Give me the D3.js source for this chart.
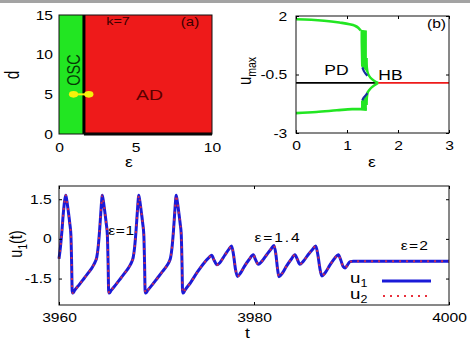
<!DOCTYPE html>
<html><head><meta charset="utf-8">
<script src="https://cdn.jsdelivr.net/npm/d3@7"></script>
<style>body{margin:0;background:#fff}svg{display:block;font-family:"Liberation Sans",Arial,sans-serif}</style>
</head><body><svg id="c" width="474" height="355"></svg>
<script>
// ---------------- DATA ----------------
// panel (a): parameter plane (eps, d)
const aXTicks = [0, 5, 10];
const aYTicks = [0, 5, 10, 15];
const oscRegion = [0, 1.63];          // eps range of OSC region (d from 0 to 15)
const adRegion = [1.63, 10];          // eps range of AD region
const aBoundaryLine = [[1.63, 0], [1.63, 15]];
const aBottomLine = [[1.63, 0], [10, 0]];
const yellowPoints = [[0.95, 5], [1.95, 5]];

// panel (b): bifurcation diagram u_max vs eps
const bXTicks = [0, 1, 2, 3];
const bYTicks = [2, -0.5, -3];
const upperBranch = [[0, 1.86], [0.3, 1.84], [0.55, 1.8], [0.85, 1.72], [1.05, 1.65], [1.15, 1.59], [1.22, 1.5], [1.27, 1.38]];
const lowerBranch = [[0, -2.15], [0.4, -2.1], [0.8, -2.03], [1.1, -1.98], [1.27, -1.98], [1.39, -2.0]];
// band rows: [eps, lower, upper]
const upperBand = [[1.265, 0.9, 1.4], [1.275, -0.15, 1.4], [1.31, -0.22, 1.4], [1.35, -0.3, 1.39], [1.39, -0.4, 1.38]];
const lowerBand = [[1.275, -2.0, -1.62], [1.31, -2.0, -1.58], [1.35, -2.0, -1.45], [1.39, -2.0, -1.2]];
const upperConnect = [[1.385, 0.2], [1.39, -0.2], [1.41, -0.45], [1.46, -0.64], [1.53, -0.77], [1.61, -0.86]];
const lowerConnect = [[1.61, -0.86], [1.53, -0.97], [1.46, -1.1], [1.41, -1.25], [1.39, -1.5], [1.385, -1.8]];
const upperBlue = [[1.30, -0.2], [1.33, -0.35], [1.37, -0.48], [1.40, -0.55]];
const lowerBlue = [[1.30, -1.6], [1.33, -1.48], [1.37, -1.38], [1.40, -1.3]];
const fixedStable = [[0, -0.86], [1.61, -0.86]];     // black
const fixedAfterHB = [[1.61, -0.86], [3, -0.86]];    // red

// panel (c): time series
const cXTicks = [3960, 3980, 4000];
const cYTicks = [1.5, 0, -1.5];
const u1 = [
 [3960.0,-0.75],[3960.15,-0.3],[3960.3,0.3],[3960.45,1.0],[3960.6,1.5],[3960.7,1.65],[3960.8,1.45],[3960.95,1.05],[3961.1,0.6],[3961.22,0.15],[3961.3,-1.0],[3961.35,-1.95],[3961.42,-2.05],
 [3961.6,-1.95],[3962.1,-1.72],[3962.6,-1.48],[3963.1,-1.24],[3963.45,-1.05],[3963.7,-0.88],[3963.87,-0.7],[3964.02,-0.3],[3964.16,0.3],[3964.29,1.0],[3964.39,1.5],[3964.44,1.65],
 [3964.54,1.45],[3964.69,1.05],[3964.84,0.6],[3964.96,0.15],[3965.04,-1.0],[3965.09,-1.95],[3965.16,-2.05],
 [3965.35,-1.95],[3965.85,-1.72],[3966.35,-1.48],[3966.85,-1.24],[3967.2,-1.05],[3967.45,-0.88],[3967.61,-0.7],[3967.76,-0.3],[3967.9,0.3],[3968.03,1.0],[3968.13,1.5],[3968.18,1.65],
 [3968.28,1.45],[3968.43,1.05],[3968.58,0.6],[3968.7,0.15],[3968.78,-1.0],[3968.83,-1.95],[3968.9,-2.05],
 [3969.1,-1.95],[3969.6,-1.72],[3970.1,-1.48],[3970.6,-1.24],[3971.0,-1.05],[3971.28,-0.88],[3971.45,-0.7],[3971.6,-0.3],[3971.74,0.3],[3971.87,1.0],[3971.97,1.5],[3972.02,1.65],
 [3972.12,1.45],[3972.27,1.05],[3972.42,0.6],[3972.54,0.15],[3972.62,-1.0],[3972.67,-1.95],[3972.74,-2.05],
 [3972.9,-1.95],[3973.5,-1.65],[3974.2,-1.25],[3974.9,-0.9],[3975.4,-0.7],[3975.66,-0.62],[3975.9,-0.8],[3976.2,-0.98],[3976.5,-0.9],[3977.0,-0.62],[3977.45,-0.38],[3977.7,-0.27],
 [3977.9,-0.6],[3978.1,-1.15],[3978.3,-1.42],[3978.6,-1.3],[3979.0,-1.05],[3979.5,-0.78],[3979.93,-0.6],[3980.15,-0.78],[3980.44,-0.96],[3980.8,-0.85],[3981.3,-0.6],[3981.75,-0.38],[3982.05,-0.25],
 [3982.25,-0.6],[3982.42,-1.15],[3982.56,-1.43],[3982.9,-1.3],[3983.3,-1.05],[3983.8,-0.78],[3984.2,-0.6],[3984.45,-0.78],[3984.7,-0.96],[3985.05,-0.85],[3985.55,-0.6],[3986.0,-0.4],[3986.33,-0.27],
 [3986.55,-0.6],[3986.75,-1.1],[3986.94,-1.4],[3987.3,-1.28],[3987.8,-0.98],[3988.3,-0.72],[3988.65,-0.6],[3988.9,-0.8],[3989.15,-1.05],[3989.35,-1.1],[3989.6,-0.98],[3989.85,-0.86],
 [3990.2,-0.85],[4000,-0.85]
];
const u2 = u1; // completely synchronized: identical trace
const epsLabels = ["ε=1", "ε=1.4", "ε=2"];

// ---------------- DRAWING ----------------
const svg = d3.select("#c");
const SX = 1.25;
const GREEN = "#22e622", RED = "#ee1a1a", BLUE = "#1a1ad8", DOTRED = "#e8303c";

svg.append("rect").attr("x", 0).attr("y", 0).attr("width", 470).attr("height", 3).attr("fill", "#a3a3a3");

function label(g, x, y, s, o = {}) {
  const t = g.append("text")
    .attr("transform", `translate(${x},${y}) scale(${SX},1)` + (o.rot ? ` rotate(${o.rot})` : ""))
    .attr("text-anchor", o.anchor || "middle")
    .style("font-size", (o.size || 13) + "px")
    .attr("fill", o.fill || "#000");
  if (o.ls) t.attr("letter-spacing", o.ls);
  if (typeof s === "string") t.text(s); else s(t);
  return t;
}
function styleAxis(g, size) {
  g.attr("font-size", null).attr("font-family", null);
  g.select(".domain").remove();
  g.selectAll("text").style("font-size", size + "px").attr("fill", "#000").each(function () {
    const x = +(this.getAttribute("x") || 0);
    this.setAttribute("x", x / SX);
    this.setAttribute("transform", `scale(${SX},1)`);
  });
}
function fmt(d) { return String(d); }

// ----- panel (a)
{
  const x = d3.scaleLinear().domain([0, 10]).range([59, 212]);
  const y = d3.scaleLinear().domain([0, 15]).range([134, 15]);
  const g = svg.append("g");
  g.append("rect").attr("x", x(oscRegion[0])).attr("y", y(15)).attr("width", x(oscRegion[1]) - x(oscRegion[0])).attr("height", y(0) - y(15)).attr("fill", GREEN);
  g.append("rect").attr("x", x(adRegion[0])).attr("y", y(15)).attr("width", x(adRegion[1]) - x(adRegion[0])).attr("height", y(0) - y(15)).attr("fill", RED);
  const line = d3.line().x(d => x(d[0])).y(d => y(d[1]));
  g.append("path").attr("d", line(aBoundaryLine)).attr("stroke", "#000").attr("stroke-width", 3).attr("fill", "none");
  g.append("path").attr("d", line(aBottomLine)).attr("stroke", "#000").attr("stroke-width", 3).attr("fill", "none");
  g.append("path").attr("d", line(yellowPoints)).attr("stroke", "#f5f20a").attr("stroke-width", 2).attr("fill", "none");
  g.selectAll("ellipse").data(yellowPoints).join("ellipse").attr("cx", d => x(d[0])).attr("cy", d => y(d[1])).attr("rx", 4.6).attr("ry", 3.3).attr("fill", "#f5f20a");
  g.append("rect").attr("x", 59).attr("y", 15).attr("width", 153).attr("height", 119).attr("fill", "none").attr("stroke", "#111").attr("stroke-width", 1);
  const ax = g.append("g").attr("transform", "translate(0,134)").call(d3.axisBottom(x).tickValues(aXTicks).tickSize(0).tickPadding(9).tickFormat(fmt));
  styleAxis(ax, 12.5);
  const ay = g.append("g").attr("transform", "translate(59,0)").call(d3.axisLeft(y).tickValues(aYTicks).tickSize(0).tickPadding(6).tickFormat(fmt));
  styleAxis(ay, 12.5);
  label(g, 118, 25, "k=7", { size: 11.5, fill: "#3a0000" });
  label(g, 190, 25.5, "(a)", { size: 12, fill: "#3a0000" });
  label(g, 149.5, 100, "AD", { size: 15.5, fill: "#5a0000" });
  label(g, 79.5, 70, "OSC", { size: 14.5, rot: -90, fill: "#063a06" });
  label(g, 18.5, 75, "d", { size: 15.5, rot: -90 });
  label(g, 129, 167, "ε", { size: 14 });
}

// ----- panel (b)
{
  const x = d3.scaleLinear().domain([0, 3]).range([296, 449]);
  const y = d3.scaleLinear().domain([-3, 2]).range([133, 16]);
  const g = svg.append("g");
  const line = d3.line().x(d => x(d[0])).y(d => y(d[1])).curve(d3.curveMonotoneX);
  const lineC = d3.line().x(d => x(d[0])).y(d => y(d[1])).curve(d3.curveCatmullRom);
  const area = d3.area().x(d => x(d[0])).y0(d => y(d[1])).y1(d => y(d[2]));
  g.append("path").attr("d", d3.line().x(d => x(d[0])).y(d => y(d[1]))(fixedStable)).attr("stroke", "#000").attr("stroke-width", 1.8).attr("fill", "none");
  g.append("path").attr("d", d3.line().x(d => x(d[0])).y(d => y(d[1]))(fixedAfterHB)).attr("stroke", RED).attr("stroke-width", 1.8).attr("fill", "none");
  g.append("path").attr("d", line(upperBranch)).attr("stroke", GREEN).attr("stroke-width", 2.6).attr("fill", "none");
  g.append("path").attr("d", line(lowerBranch)).attr("stroke", GREEN).attr("stroke-width", 2.6).attr("fill", "none");
  g.append("path").attr("d", area(upperBand)).attr("fill", GREEN);
  g.append("path").attr("d", area(lowerBand)).attr("fill", GREEN);
  g.append("path").attr("d", lineC(upperConnect)).attr("stroke", GREEN).attr("stroke-width", 2.4).attr("fill", "none");
  g.append("path").attr("d", lineC(lowerConnect)).attr("stroke", GREEN).attr("stroke-width", 2.4).attr("fill", "none");
  g.append("path").attr("d", lineC(upperBlue)).attr("stroke", "#1530a0").attr("stroke-width", 2.2).attr("fill", "none");
  g.append("path").attr("d", lineC(lowerBlue)).attr("stroke", "#1530a0").attr("stroke-width", 2.2).attr("fill", "none");
  g.append("rect").attr("x", 296).attr("y", 16).attr("width", 153).attr("height", 117).attr("fill", "none").attr("stroke", "#111").attr("stroke-width", 1);
  const ax = g.append("g").attr("transform", "translate(0,133)").call(d3.axisBottom(x).tickValues(bXTicks).tickSizeInner(-3).tickSizeOuter(0).tickPadding(8).tickFormat(fmt));
  styleAxis(ax, 12.5);
  const ax2 = g.append("g").attr("transform", "translate(0,16)").call(d3.axisTop(x).tickValues(bXTicks).tickSizeInner(-3).tickSizeOuter(0).tickFormat(""));
  ax2.select(".domain").remove();
  const ay = g.append("g").attr("transform", "translate(296,0)").call(d3.axisLeft(y).tickValues(bYTicks).tickSizeInner(-3).tickSizeOuter(0).tickPadding(8.7).tickFormat(fmt));
  styleAxis(ay, 12.5);
  const ay2 = g.append("g").attr("transform", "translate(449,0)").call(d3.axisRight(y).tickValues(bYTicks).tickSizeInner(-3).tickSizeOuter(0).tickFormat(""));
  ay2.select(".domain").remove();
  label(g, 436.5, 28, "(b)", { size: 12.5 });
  label(g, 336.5, 75, "PD", { size: 14 });
  label(g, 390.5, 80, "HB", { size: 14 });
  label(g, 372, 167, "ε", { size: 14 });
  label(g, 251, 71, t => { t.append("tspan").text("u"); t.append("tspan").attr("dy", 4).style("font-size", "10.5px").text("max"); }, { size: 15, rot: -90 });
}

// ----- panel (c)
{
  const x = d3.scaleLinear().domain([3960, 4000]).range([59, 449]);
  const y = d3.scaleLinear().domain([-2.5, 2]).range([305, 186]);
  const g = svg.append("g");
  const line = d3.line().x(d => x(d[0])).y(d => y(d[1])).curve(d3.curveMonotoneX);
  g.append("path").attr("d", line(u1)).attr("stroke", BLUE).attr("stroke-width", 3).attr("fill", "none").attr("stroke-linejoin", "round");
  g.append("path").attr("d", line(u2)).attr("stroke", DOTRED).attr("stroke-width", 2).attr("stroke-dasharray", "2,5").attr("fill", "none").attr("opacity", 0.85);
  g.append("rect").attr("x", 59).attr("y", 186).attr("width", 390).attr("height", 119).attr("fill", "none").attr("stroke", "#111").attr("stroke-width", 1);
  const ax = g.append("g").attr("transform", "translate(0,305)").call(d3.axisBottom(x).tickValues(cXTicks).tickSizeInner(-3).tickSizeOuter(0).tickPadding(8).tickFormat(fmt));
  styleAxis(ax, 12.5);
  const ax2 = g.append("g").attr("transform", "translate(0,186)").call(d3.axisTop(x).tickValues(cXTicks).tickSizeInner(-3).tickSizeOuter(0).tickFormat(""));
  ax2.select(".domain").remove();
  const ay = g.append("g").attr("transform", "translate(59,0)").call(d3.axisLeft(y).tickValues(cYTicks).tickSizeInner(-3).tickSizeOuter(0).tickPadding(7.3).tickFormat(fmt));
  styleAxis(ay, 12.5);
  const ay2 = g.append("g").attr("transform", "translate(449,0)").call(d3.axisRight(y).tickValues(cYTicks).tickSizeInner(-3).tickSizeOuter(0).tickFormat(""));
  ay2.select(".domain").remove();
  label(g, 121.5, 235, epsLabels[0], { size: 12.5, ls: 0.5 });
  label(g, 278, 242, epsLabels[1], { size: 12.5, ls: 1.5 });
  label(g, 415, 250, epsLabels[2], { size: 12.5, ls: 1 });
  label(g, 247.5, 338, "t", { size: 14 });
  label(g, 22, 244, t => { t.append("tspan").text("u"); t.append("tspan").attr("dy", 4).style("font-size", "10px").text("1"); t.append("tspan").attr("dy", -4).text("(t)"); }, { size: 14.5, rot: -90 });
  // legend
  label(g, 350, 283, t => { t.append("tspan").text("u"); t.append("tspan").attr("dy", 4).style("font-size", "10px").text("1"); }, { size: 15, anchor: "start" });
  label(g, 350, 299, t => { t.append("tspan").text("u"); t.append("tspan").attr("dy", 4).style("font-size", "10px").text("2"); }, { size: 15, anchor: "start" });
  g.append("line").attr("x1", 382).attr("x2", 431).attr("y1", 281).attr("y2", 281).attr("stroke", BLUE).attr("stroke-width", 3);
  g.append("line").attr("x1", 383).attr("x2", 431).attr("y1", 296).attr("y2", 296).attr("stroke", DOTRED).attr("stroke-width", 2).attr("stroke-dasharray", "2,5");
}
</script></body></html>
